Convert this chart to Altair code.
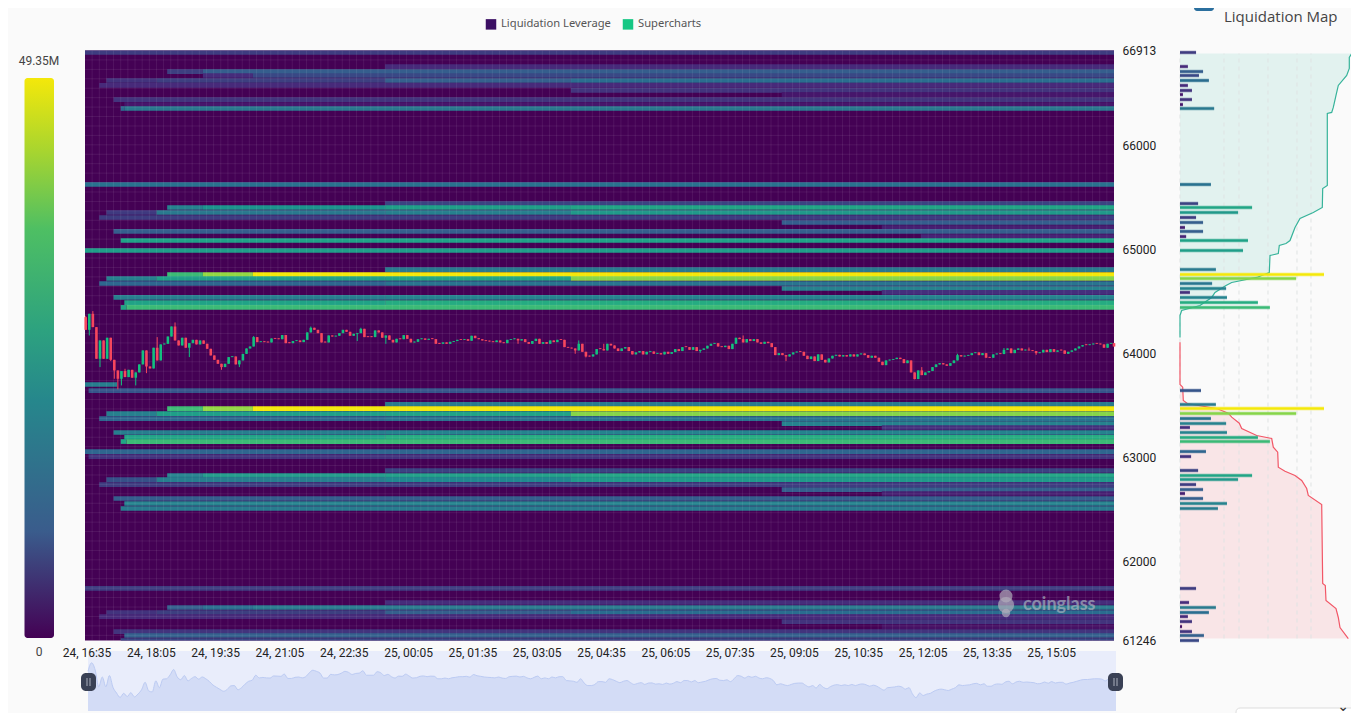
import altair as alt
import pandas as pd

# ---------- axis values ----------
base_time = pd.Timestamp("2024-03-24 16:35:00")
tick_labels_min = [0, 90, 180, 270, 360, 450, 540, 630, 720, 810, 900, 990, 1080, 1170, 1260, 1350]
price_ticks = [66913, 66000, 65000, 64000, 63000, 62000, 61246]
color_max = 49.35

# ---------- candles (5-minute closes) ----------
first_open = 64352
closes = [
64230,64384,64256,63952,64128,63952,64154,63942,63840,63760,
63834,63776,63846,63770,63821,63898,64032,63878,63859,64058,
63936,64090,64096,64166,64262,64128,64080,64154,64058,64102,
64134,64090,64128,64096,64048,63984,63942,63904,63872,63904,
63968,63974,63898,63936,63999,64051,64070,64160,64112,64120,
64112,64109,64147,64144,64140,64180,64102,64102,64122,64128,
64112,64134,64205,64250,64230,64198,64109,64109,64176,64166,
64173,64198,64230,64211,64173,64192,64198,64240,64160,64160,
64160,64224,64205,64154,64176,64134,64109,64144,64140,64179,
64144,64109,64115,64140,64147,64134,64144,64141,64096,64096,
64109,64096,64115,64122,64134,64134,64140,64125,64173,64150,
64140,64128,64122,64118,64112,64128,64109,64102,64134,64140,
64144,64128,64140,64112,64096,64122,64144,64096,64112,64096,
64128,64112,64134,64134,64064,64058,64051,64032,64096,64019,
63974,63974,63994,64045,64045,64032,64096,64080,64051,64026,
64051,64064,64026,63994,64013,64026,63994,64019,64022,64000,
64006,63994,64019,64000,64016,64045,64026,64064,64064,64038,
64064,64026,64038,64051,64077,64096,64102,64070,64064,64077,
64045,64096,64154,64141,64109,64141,64122,64141,64109,64096,
64115,64102,64064,63987,64006,63987,63974,63994,64013,64019,
64019,63981,63949,63974,63930,63994,63942,63917,63955,63981,
63990,63974,63987,63974,63994,63974,63994,64003,63987,63962,
63981,63962,63923,63891,63936,63942,63949,63962,63949,63910,
63936,63821,63757,63840,63795,63821,63834,63872,63898,63910,
63898,63885,63910,63936,63987,63974,63981,63987,64006,64013,
63987,64006,63962,63962,63994,64003,63997,64038,64051,64006,
64038,64051,64032,64038,64032,64026,64006,64013,64038,64016,
64045,64019,64032,64032,64000,64019,64032,64051,64070,64083,
64083,64090,64096,64096,64090,64058,64096,64102,64070]
wick_high = {2:64410,11:63856,20:64160,25:64301,108:64170,138:64128,184:64176,234:63872,244:64000,
             0:64365,47:64170,63:64262,77:64250,145:64096,147:64096,257:64055,264:64060}
wick_low = {1:64176,4:63872,7:63930,8:63760,9:63658,10:63696,14:63696,17:63814,29:63968,38:63846,43:63872,
            76:64122,84:64096,121:64096,137:64000,196:63930,232:63754,237:63850,172:64010,140:63965,266:63990}

# ---------- liquidation levels: price and (start minute, value in M) steps ----------
level_prices = [66894,66759,66711,66673,66625,66577,66529,66490,66442,66394,66356,65626,
                65443,65405,65357,65309,65261,65213,65175,65126,65088,64992,
                64809,64761,64723,64675,64627,64589,64541,64492,64445,
                63705,63647,63513,63474,63426,63378,63330,63292,63244,63196,63157,63061,63013,
                62879,62831,62792,62744,62696,62658,62610,62562,62514,
                61746,61611,61563,61515,61476,61428,61380,61332,61294,61246]
level_steps = [
 [(0,5.5)],[(420,2.7)],[(115,6),(165,7.9)],[(165,3),(235,6.5)],[(30,4),(100,6),(420,8),(680,9.9)],
 [(20,2.7)],[(680,4.1)],[(975,1.0)],[(40,4.1)],[(55,1.0)],[(50,9),(55,11.7)],[(0,10.6)],
 [(420,6.2)],[(115,16),(165,19),(420,22),(680,24.7)],[(30,5),(100,12),(420,15),(680,19.9)],[(20,5.5)],
 [(975,7.9)],[(1115,1.7)],[(40,7.9)],[(1170,2.1)],[(50,23.3)],[(0,21.6)],
 [(420,12.3)],[(115,31),(165,41),(235,49.35)],[(30,15),(100,22),(420,24),(680,39.8)],[(20,9),(420,11)],
 [(975,15.8)],[(1115,3.4)],[(40,14),(420,16.1)],[(55,24),(420,26.7)],[(50,25),(58,30.8)],
 [(0,14),(45,0)],[(5,7.2)],
 [(420,12.3)],[(115,31),(165,41),(235,49.35)],[(30,15),(100,22),(420,24),(680,39.8)],[(20,9),(420,10.6)],
 [(975,15.8)],[(1115,3.4)],[(40,14),(420,16.1)],[(55,24),(420,26.7)],[(50,25),(58,30.8)],[(0,8.9)],[(5,3.8)],
 [(420,6.2)],[(115,16),(165,20),(420,22),(680,24.7)],[(30,7),(100,14),(420,17),(680,19.9)],[(20,5.5)],
 [(975,7.9)],[(1115,1.7)],[(40,7.9)],[(55,16.1)],[(50,13)],
 [(0,5.5)],[(420,3.1)],[(115,8),(165,10),(235,12.3)],[(30,4),(100,6),(420,8),(680,9.9)],[(20,2.7)],
 [(975,4.1)],[(1115,0.7)],[(40,4.1)],[(55,8.2)],[(50,6.5)],
]
row_span = 45.3

# colour ramp of the heat map
ramp_values = [0, 1, 2.7, 6, 8, 11.6, 16, 20, 24.7, 31, 40, 49.35]
ramp_colors = ["#440154", "#46166b", "#472a7a", "#3d3f80", "#35608d", "#2a788e",
               "#26828e", "#219a8a", "#21a585", "#3cbb75", "#88d548", "#f4e80a"]

# ---------- cumulative curves ----------
short_prices = [66884,66846,66740,66673,66577,66481,66366,66318,66308,65616,65587,65405,65357,65299,65213,
                65088,65059,65040,64963,64944,64781,64733,64685,64656,64589,64541,64464,64416,64368,64156]
short_cum = [171.7,169.3,169.3,166.7,158.3,156,153.3,151.7,147.3,147.3,142.7,142.3,133.3,120,115,
             110,106,99.3,98.3,90,89.3,76.7,51.7,46,35,31.7,20,1.7,0,0]
long_prices = [64111,63705,63679,63551,63522,63474,63429,63391,63333,63282,63215,63186,63103,63055,62911,
               62872,62831,62783,62706,62639,62552,61793,61774,61630,61553,61467,61371,61265]
long_cum = [0,0,2.7,3.3,7.3,36.7,48.3,51.7,59.3,61.7,76.7,91.7,93.3,97.7,98.3,
            105,115,121.7,126.7,128.3,141.7,142.7,145.3,146,156,158.3,160,168.3]
side_grid = [0, 44, 59, 88, 117, 131, 175]

legend_names = ["Liquidation Leverage", "Supercharts"]
legend_colors = ["#3b0f63", "#16c784"]

# ---------- tables ----------
def tm(m):
    return base_time + pd.Timedelta(minutes=float(m))

rows = []
for p, steps in zip(level_prices, level_steps):
    for k, (s, v) in enumerate(steps):
        e = steps[k + 1][0] if k + 1 < len(steps) else 1440
        rows.append(dict(t0=tm(s), t1=tm(e), p0=p - row_span / 2, p1=p + row_span / 2, v=v))
bands = pd.DataFrame(rows)

bars = pd.DataFrame([dict(price=p, v=s[-1][1], zero=0) for p, s in zip(level_prices, level_steps) if s[-1][1] > 0])

opens = [first_open] + closes[:-1]
cd = []
for i, (o, c) in enumerate(zip(opens, closes)):
    lo, hi = min(o, c), max(o, c)
    if hi - lo < 8:
        hi = lo + 8
    cd.append(dict(t=tm(5 * i + 1), lo=lo, hi=hi, wl=min(lo, wick_low.get(i, lo)), wh=max(hi, wick_high.get(i, hi)),
                   d="up" if c > o else "down"))
candles = pd.DataFrame(cd)

# ---------- scales (canvas pixels = page pixels - 8) ----------
W, H = 1343, 705
t_dom = [tm(0).isoformat(), tm(1440).isoformat()]
p_dom = [price_ticks[-1], price_ticks[0]]
T = alt.Scale(domain=t_dom, range=[77, 1106], clamp=True)
P = alt.Scale(domain=p_dom, range=[632.5, 42.5], clamp=True)
V = alt.Scale(domain=[0, color_max], range=[1172, 1316])
C = alt.Scale(domain=[0, 175], range=[1172, 1347])
HEAT = alt.Scale(domain=ramp_values, range=ramp_colors)
NT = alt.Scale(domain=t_dom, range=[80, 1108])
NP = alt.Scale(domain=[63516, 64596], range=[703, 643])
FONT = "Roboto"

def tx(f):
    return alt.X(f, type="temporal", scale=T, axis=None)
def py(f):
    return alt.Y(f, type="quantitative", scale=P, axis=None)

one = pd.DataFrame({"a": [0]})
layers = []

# page decoration behind everything
layers.append(alt.Chart(one).mark_rect(color="#ffffff", stroke="#dddddd", cornerRadius=4).encode(
    x=alt.value(1228), x2=alt.value(1350), y=alt.value(700), y2=alt.value(712)))
layers.append(alt.Chart(pd.DataFrame({"s": ["⌄"]})).mark_text(fontSize=14, color="#333333", font="DejaVu Sans").encode(
    x=alt.value(1335), y=alt.value(699), text="s:N"))

# navigator (drawn first: the time labels sit on it)
layers.append(alt.Chart(one).mark_rect(color="#e9edfb").encode(
    x=alt.value(80), x2=alt.value(1108), y=alt.value(643), y2=alt.value(703)))
nav = pd.DataFrame({"t": [tm(5 * i) for i in range(len(closes))], "c": closes})
nav["b"] = 63516
layers.append(alt.Chart(nav).mark_area(color="#d3dcf6", interpolate="monotone").encode(
    x=alt.X("t:T", scale=NT, axis=None), y=alt.Y("c:Q", scale=NP, axis=None), y2="b:Q"))
layers.append(alt.Chart(nav).mark_line(color="#bccbf3", strokeWidth=1, interpolate="monotone").encode(
    x=alt.X("t:T", scale=NT, axis=None), y=alt.Y("c:Q", scale=NP, axis=None)))
for x0 in (73, 1100):
    layers.append(alt.Chart(one).mark_rect(color="#3a4155", cornerRadius=5).encode(
        x=alt.value(x0), x2=alt.value(x0 + 15), y=alt.value(665), y2=alt.value(683)))
    for dx in (6, 9):
        layers.append(alt.Chart(one).mark_rule(color="#aab0bd", strokeWidth=1).encode(
            x=alt.value(x0 + dx), y=alt.value(670), y2=alt.value(678)))

# heat map base with the axes
bg = pd.DataFrame({"t0": [t_dom[0]], "t1": [t_dom[1]], "p0": [p_dom[0]], "p1": [p_dom[1]]})
layers.append(alt.Chart(bg).mark_rect(color="#440154").encode(
    x=alt.X("t0:T", scale=T, axis=alt.Axis(
        values=[tm(m).isoformat() for m in tick_labels_min], format="%d, %H:%M", orient="bottom", offset=632.5 - H,
        domain=False, ticks=False, grid=False, labelFont=FONT, labelFontSize=12, labelColor="#222222",
        labelPadding=7, labelOverlap=False, labelFlush=False, labelOffset=1.5, labelAngle=0, title=None, zindex=1)),
    x2="t1:T",
    y=alt.Y("p0:Q", scale=P, axis=alt.Axis(
        values=price_ticks, orient="right", offset=1106 - W, domain=False, ticks=False, grid=False, format="d",
        labelFont=FONT, labelFontSize=12, labelColor="#222222", labelPadding=8, labelOverlap=False,
        labelFlush=False, labelBaseline="middle", title=None, zindex=1)),
    y2="p1:Q"))

layers.append(alt.Chart(bands).mark_rect().encode(
    x=tx("t0"), x2="t1:T", y=py("p0"), y2="p1:Q",
    color=alt.Color("v:Q", scale=HEAT, legend=None)))

# faint cell lines
vgrid = pd.DataFrame({"t": [tm(m) for m in range(10, 1440, 10)]})
vgrid["p0"], vgrid["p1"] = p_dom[0], p_dom[1]
layers.append(alt.Chart(vgrid).mark_rule(color="#ffffff", opacity=0.08, strokeWidth=1).encode(
    x=tx("t"), y=py("p0"), y2="p1:Q"))
hgrid = pd.DataFrame({"p": [p_dom[1] - 90.6 * k for k in range(1, 63)]})
hgrid["t0"], hgrid["t1"] = t_dom[0], t_dom[1]
layers.append(alt.Chart(hgrid).mark_rule(color="#ffffff", opacity=0.08, strokeWidth=1).encode(
    x=tx("t0"), x2="t1:T", y=py("p")))

# candles
CC = alt.Scale(domain=["up", "down"], range=["#13c07f", "#f6465d"])
layers.append(alt.Chart(candles).mark_rule(strokeWidth=1).encode(
    x=tx("t"), y=py("wl"), y2="wh:Q", color=alt.Color("d:N", scale=CC, legend=None)))
layers.append(alt.Chart(candles).mark_rule(strokeWidth=2.6).encode(
    x=tx("t"), y=py("lo"), y2="hi:Q", color=alt.Color("d:N", scale=CC, legend=None)))

# watermark
layers.append(alt.Chart(pd.DataFrame({"s": ["coinglass"]})).mark_text(
    font="Lato", fontWeight="bold", fontSize=18, color="#aeb8c2", opacity=0.65, align="left", baseline="middle").encode(
    x=alt.value(1015), y=alt.value(597), text="s:N"))
for cx0, cy0, sz in ((998, 597, 260), (998, 588, 170), (998, 605, 70)):
    layers.append(alt.Chart(one).mark_circle(size=sz, color="#b0adba", opacity=0.7).encode(
        x=alt.value(cx0), y=alt.value(cy0)))

# colour bar
grad = alt.Gradient(gradient="linear", x1=0, y1=1, x2=0, y2=0, stops=[
    alt.GradientStop(offset=0, color="#440154"),
    alt.GradientStop(offset=0.19, color="#3a5c8c"),
    alt.GradientStop(offset=0.425, color="#26878c"),
    alt.GradientStop(offset=0.55, color="#2da27f"),
    alt.GradientStop(offset=0.73, color="#4ebf63"),
    alt.GradientStop(offset=0.87, color="#a8d52f"),
    alt.GradientStop(offset=1, color="#f4e80a"),
])
layers.append(alt.Chart(one).mark_rect(color=grad, cornerRadius=3).encode(
    x=alt.value(16.5), x2=alt.value(46), y=alt.value(70), y2=alt.value(630)))
layers.append(alt.Chart(pd.DataFrame({"s": [f"{color_max}M"]})).mark_text(
    font=FONT, fontSize=12, color="#444444").encode(x=alt.value(31), y=alt.value(53), text="s:N"))
layers.append(alt.Chart(pd.DataFrame({"s": ["0"]})).mark_text(
    font=FONT, fontSize=12, color="#444444").encode(x=alt.value(31), y=alt.value(644), text="s:N"))

# side panel
short_df = pd.DataFrame({"p": short_prices, "c": short_cum, "z": 0})
long_df = pd.DataFrame({"p": long_prices, "c": long_cum, "z": 0})
cx = lambda f: alt.X(f, type="quantitative", scale=C, axis=None)
layers.append(alt.Chart(short_df).mark_area(color="#e2f2ef", orient="horizontal").encode(
    x=cx("c"), x2="z:Q", y=py("p")))
layers.append(alt.Chart(long_df).mark_area(color="#f9e5e7", orient="horizontal").encode(
    x=cx("c"), x2="z:Q", y=py("p")))
sg = pd.DataFrame({"c": side_grid})
sg["p0"], sg["p1"] = 61265, 66884
layers.append(alt.Chart(sg).mark_rule(color="#dfe3e3", strokeWidth=1, strokeDash=[4, 4]).encode(
    x=cx("c"), y=py("p0"), y2="p1:Q"))
layers.append(alt.Chart(short_df).mark_line(color="#36b39a", strokeWidth=1.2, orient="horizontal").encode(
    x=cx("c"), y=py("p")))
layers.append(alt.Chart(long_df).mark_line(color="#f25767", strokeWidth=1.2, orient="horizontal").encode(
    x=cx("c"), y=py("p")))
vx = lambda f: alt.X(f, type="quantitative", scale=V, axis=None)
layers.append(alt.Chart(bars).mark_rule(strokeWidth=4.4, opacity=0.22).encode(
    x=vx("zero"), x2="v:Q", y=py("price"), color=alt.Color("v:Q", scale=HEAT, legend=None)))
layers.append(alt.Chart(bars).mark_rule(strokeWidth=2.6).encode(
    x=vx("zero"), x2="v:Q", y=py("price"), color=alt.Color("v:Q", scale=HEAT, legend=None)))

# top-right control, cut by the top of the page
layers.append(alt.Chart(one).mark_rect(color="#2b6f9e", cornerRadius=3).encode(
    x=alt.value(1186), x2=alt.value(1206), y=alt.value(-10), y2=alt.value(3)))
layers.append(alt.Chart(pd.DataFrame({"s": ["Liquidation Map"]})).mark_text(
    font="Open Sans", fontSize=15, color="#444444", align="left", baseline="middle").encode(
    x=alt.value(1216), y=alt.value(9), text="s:N"))

# legend
leg = pd.DataFrame({"k": legend_names})
layers.append(alt.Chart(leg).mark_square(size=1, opacity=0).encode(
    x=alt.value(-20), y=alt.value(-20),
    color=alt.Color("k:N", title=None, sort=None, scale=alt.Scale(domain=legend_names, range=legend_colors),
                    legend=alt.Legend(orient="none", legendX=477, legendY=10, direction="horizontal",
                                      symbolType="square", symbolSize=110, symbolOpacity=1, labelFont="Noto Sans",
                                      labelFontSize=11.2, labelColor="#555555", labelOffset=4, columnPadding=11,
                                      padding=0))))

chart = alt.layer(*layers).resolve_scale(x="independent", y="independent", color="independent").properties(
    width=W, height=H, padding=0, autosize=alt.AutoSizeParams(type="none"), background="#fafafa"
).configure_view(stroke=None)

chart.save("out.html", embed_options={"renderer": "svg", "actions": False})
